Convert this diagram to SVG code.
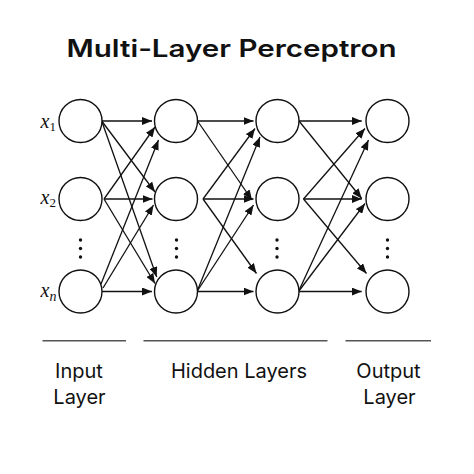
<svg xmlns="http://www.w3.org/2000/svg" width="474" height="474" viewBox="0 0 474 474">
<defs>
<marker id="ah" markerUnits="userSpaceOnUse" markerWidth="10" markerHeight="8" refX="10" refY="4" orient="auto">
<path d="M0,0 L10,4 L0,8 z" fill="#111"/>
</marker>
<style>
.n{fill:#fff;stroke:#111;stroke-width:1.4}
.c line{stroke:#111;stroke-width:1.3;marker-end:url(#ah)}
.d{fill:#111}
.x{font-family:"Liberation Serif",serif;font-style:italic;font-size:20px;fill:#111}
.s{font-style:normal;font-size:13px}
.si{font-style:italic;font-size:14px}
.lbl{font-family:Inter,"Liberation Sans",sans-serif;font-size:20px;fill:#111;text-anchor:middle}
.sep{stroke:#555;stroke-width:1.4}
</style>
</defs>
<rect width="474" height="474" fill="#fff"/>
<text x="66.5" y="57" font-family="Inter,'Liberation Sans',sans-serif" font-weight="600" font-size="24" fill="#111" textLength="330" lengthAdjust="spacingAndGlyphs">Multi-Layer Perceptron</text>
<g id="connectors" class="c">
<line x1="101.7" y1="121" x2="152" y2="121"/>
<line x1="101.7" y1="121" x2="155" y2="192"/>
<line x1="101.7" y1="121" x2="156.7" y2="277"/>
<line x1="104" y1="199" x2="155" y2="127"/>
<line x1="104" y1="199" x2="152.5" y2="199"/>
<line x1="104" y1="199" x2="155" y2="283.5"/>
<line x1="101" y1="284" x2="158.5" y2="140"/>
<line x1="103" y1="288" x2="153.5" y2="205"/>
<line x1="102" y1="291.5" x2="152" y2="291.5"/>
<line x1="197.5" y1="121" x2="253.5" y2="121"/>
<line x1="197.5" y1="121" x2="252" y2="200"/>
<line x1="203" y1="199" x2="255" y2="128.5"/>
<line x1="203" y1="199" x2="253.5" y2="199"/>
<line x1="203" y1="199" x2="256.5" y2="273.5"/>
<line x1="197" y1="291.5" x2="260" y2="137"/>
<line x1="197" y1="291.5" x2="253.5" y2="205"/>
<line x1="197.5" y1="291.5" x2="253.5" y2="291.5"/>
<line x1="299" y1="121" x2="361.7" y2="121"/>
<line x1="299" y1="121" x2="361.7" y2="198.5"/>
<line x1="303.5" y1="199" x2="365" y2="128.5"/>
<line x1="303.5" y1="199" x2="361.7" y2="199"/>
<line x1="303.5" y1="199" x2="366.5" y2="273.5"/>
<line x1="298.5" y1="291.5" x2="368.5" y2="140"/>
<line x1="298.5" y1="291.5" x2="365" y2="203.5"/>
<line x1="299" y1="291.5" x2="361.7" y2="291.5"/>
</g>
<g id="in1"><circle class="n" cx="80.5" cy="121" r="21.5"/><text class="x" x="40.5" y="127.5">x<tspan class="s" dy="3.5">1</tspan></text></g>
<g id="in2"><circle class="n" cx="80.5" cy="199" r="21.5"/><text class="x" x="40.5" y="203.5">x<tspan class="s" dy="3.5">2</tspan></text></g>
<g id="inn"><circle class="n" cx="80.5" cy="291.5" r="21.5"/><text class="x" x="40.5" y="297">x<tspan class="si" dy="3.5">n</tspan></text></g>
<g id="h1a"><circle class="n" cx="176" cy="121" r="21.5"/></g>
<g id="h1b"><circle class="n" cx="176" cy="199" r="21.5"/></g>
<g id="h1c"><circle class="n" cx="176" cy="291.5" r="21.5"/></g>
<g id="h2a"><circle class="n" cx="277.5" cy="121" r="21.5"/></g>
<g id="h2b"><circle class="n" cx="277.5" cy="199" r="21.5"/></g>
<g id="h2c"><circle class="n" cx="277.5" cy="291.5" r="21.5"/></g>
<g id="o1"><circle class="n" cx="387.5" cy="121" r="21.5"/></g>
<g id="o2"><circle class="n" cx="387.5" cy="199" r="21.5"/></g>
<g id="o3"><circle class="n" cx="387.5" cy="291.5" r="21.5"/></g>
<g id="dots">
<circle class="d" cx="80.5" cy="240" r="1.7"/><circle class="d" cx="80.5" cy="248.5" r="1.7"/><circle class="d" cx="80.5" cy="257" r="1.7"/>
<circle class="d" cx="176.5" cy="240" r="1.7"/><circle class="d" cx="176.5" cy="248.5" r="1.7"/><circle class="d" cx="176.5" cy="257" r="1.7"/>
<circle class="d" cx="277" cy="240" r="1.7"/><circle class="d" cx="277" cy="248.5" r="1.7"/><circle class="d" cx="277" cy="257" r="1.7"/>
<circle class="d" cx="387.5" cy="240" r="1.7"/><circle class="d" cx="387.5" cy="248.5" r="1.7"/><circle class="d" cx="387.5" cy="257" r="1.7"/>
</g>
<g id="legend">
<line class="sep" x1="42.5" y1="340.7" x2="126" y2="340.7"/>
<line class="sep" x1="143.5" y1="340.7" x2="327.5" y2="340.7"/>
<line class="sep" x1="345.5" y1="340.7" x2="431" y2="340.7"/>
<text class="lbl" x="79" y="377.5">Input</text>
<text class="lbl" x="79.5" y="403.5">Layer</text>
<text class="lbl" x="239" y="377.5">Hidden Layers</text>
<text class="lbl" x="388.5" y="377.5">Output</text>
<text class="lbl" x="389.5" y="403.5">Layer</text>
</g>
</svg>
